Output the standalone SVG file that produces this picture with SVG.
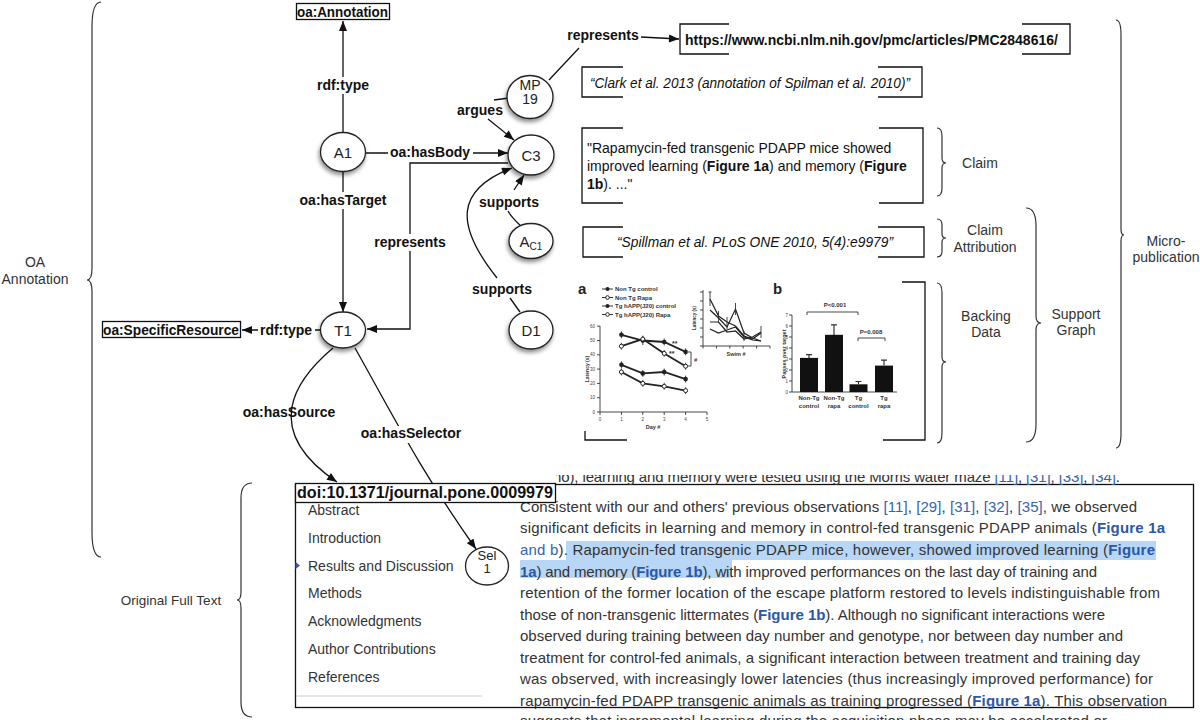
<svg xmlns="http://www.w3.org/2000/svg" width="1200" height="720" viewBox="0 0 1200 720">
<defs>
<style>
.lbl{font-family:"Liberation Sans",Arial,sans-serif;font-size:14px;font-weight:bold;fill:#111}
.mid{text-anchor:middle}
.nd{fill:#fff;stroke:#222;stroke-width:1.3}
.sh{filter:url(#sh)}
.nt{font-family:"Liberation Sans",Arial,sans-serif;font-size:15px;fill:#222;text-anchor:middle}
.cn{fill:none;stroke:#111;stroke-width:1.3}
.ar{marker-end:url(#ah)}
.wb{fill:#fff;stroke:none}
.bx{fill:none;stroke:#111;stroke-width:1.3}
.br{fill:none;stroke:#333;stroke-width:1.2}
.sd{font-family:"Liberation Sans",Arial,sans-serif;font-size:14px;fill:#333;text-anchor:middle}
.tx{font-family:"Liberation Sans",Arial,sans-serif;font-size:14px;fill:#111}
.body{font-family:"Liberation Sans",Arial,sans-serif;font-size:15px;fill:#333}
.toc{font-family:"Liberation Sans",Arial,sans-serif;font-size:14px;fill:#333}
.lk{fill:#3563b0}
.fg{fill:#2b58a6;font-weight:bold}
.ch{fill:none;stroke:#222;stroke-width:1.8}
.ax{fill:none;stroke:#333;stroke-width:0.9}
.tk{font-family:"Liberation Sans",Arial,sans-serif;font-size:4.5px;fill:#444}
.cl{font-family:"Liberation Sans",Arial,sans-serif;font-size:6px;font-weight:bold;fill:#333}
.mf{fill:#222}
.mo{fill:#fff;stroke:#222;stroke-width:1}
</style>
<marker id="ah" viewBox="0 0 10 8" refX="10" refY="4" markerWidth="11" markerHeight="8" markerUnits="userSpaceOnUse" orient="auto"><path d="M0,0 L10,4 L0,8 Z" fill="#111"/></marker>
<filter id="sh" x="-40%" y="-40%" width="180%" height="190%"><feDropShadow dx="-1" dy="3" stdDeviation="2" flood-color="#000" flood-opacity="0.45"/></filter>
<clipPath id="clipL1"><rect x="556" y="475" width="640" height="10"/></clipPath>
<clipPath id="clipL12"><rect x="510" y="708" width="690" height="12"/></clipPath>
</defs>
<rect width="1200" height="720" fill="#fff"/>

<!-- Braces and side labels -->
<g id="brace-oa">
<path class="br" d="M101,2 Q92,2 92,27 L92,268 Q92,280 87,280 Q92,280 92,292 L92,532 Q92,557 101,557"/>
<text class="sd" x="35" y="267">OA</text>
<text class="sd" x="35" y="284">Annotation</text>
</g>
<g id="brace-fulltext">
<path class="br" d="M252,483 Q241,483 241,498 L241,592 Q241,600 237,600 Q241,600 241,608 L241,702 Q241,717 252,717"/>
<text class="sd" x="171" y="605" style="font-size:13.5px">Original Full Text</text>
</g>
<g id="brace-claim">
<path class="br" d="M937,128 Q942,128 942,136 L942,158 Q942,163 946,163 Q942,163 942,168 L942,188 Q942,196 937,196"/>
<text class="sd" x="980" y="168">Claim</text>
</g>
<g id="brace-attribution">
<path class="br" d="M937,219 Q942,219 942,225 L942,234 Q942,238 946,238 Q942,238 942,242 L942,251 Q942,257 937,257"/>
<text class="sd" x="985" y="235">Claim</text>
<text class="sd" x="985" y="252">Attribution</text>
</g>
<g id="brace-backing">
<path class="br" d="M937,283 Q942,283 942,293 L942,357 Q942,362 946,362 Q942,362 942,367 L942,433 Q942,443 937,443"/>
<text class="sd" x="986" y="321">Backing</text>
<text class="sd" x="986" y="337">Data</text>
</g>
<g id="brace-support">
<path class="br" d="M1026,208 Q1036,208 1036,226 L1036,316 Q1036,323 1041,323 Q1036,323 1036,330 L1036,424 Q1036,442 1026,442"/>
<text class="sd" x="1076" y="319">Support</text>
<text class="sd" x="1076" y="335">Graph</text>
</g>
<g id="brace-micro">
<path class="br" d="M1116,20 Q1121,20 1121,35 L1121,229 Q1121,235 1124,235 Q1121,235 1121,241 L1121,433 Q1121,448 1116,448"/>
<text class="sd" x="1166" y="246">Micro-</text>
<text class="sd" x="1166" y="262">publication</text>
</g>

<!-- Text boxes (bracket style) -->
<g id="url-box">
<path class="bx" d="M729,24 H680 V54 H729 M1022,24 H1070 V54 H1022"/>
<text class="lbl" x="685" y="45">https://www.ncbi.nlm.nih.gov/pmc/articles/PMC2848616/</text>
</g>
<g id="clark-box">
<path class="bx" d="M623,67 H582 V97 H623 M878,67 H922 V97 H878"/>
<text class="tx" x="590" y="88" font-style="italic" textLength="320" lengthAdjust="spacingAndGlyphs">“Clark et al. 2013 (annotation of Spilman et al. 2010)”</text>
</g>
<g id="claim-box">
<path class="bx" d="M623,128 H582 V203 H623 M879,128 H923 V203 H879"/>
<text class="tx" x="587" y="153">"Rapamycin-fed transgenic PDAPP mice showed</text>
<text class="tx" x="587" y="171">improved learning (<tspan font-weight="bold">Figure 1a</tspan>) and memory (<tspan font-weight="bold">Figure</tspan></text>
<text class="tx" x="587" y="189"><tspan font-weight="bold">1b</tspan>). ..."</text>
</g>
<g id="attribution-box">
<path class="bx" d="M623,227 H583 V257 H623 M878,227 H924 V257 H878"/>
<text class="tx" x="617" y="247" font-style="italic" textLength="276" lengthAdjust="spacingAndGlyphs">“Spillman et al. PLoS ONE 2010, 5(4):e9979”</text>
</g>

<!-- Backing data chart -->
<g id="backing-data">
<path class="bx" d="M585,431 V440 H627 M902,282 H925 V440 H883"/>
<text x="578" y="294" style="font-family:'Liberation Sans',Arial,sans-serif;font-size:15px;font-weight:bold;fill:#222">a</text>
<text x="773" y="294" style="font-family:'Liberation Sans',Arial,sans-serif;font-size:15px;font-weight:bold;fill:#222">b</text>
<path class="ax" style="stroke-width:1.2" d="M602,289H613M602,297.5H613M602,306H613M602,314.5H613"/>
<circle class="mf" cx="607.5" cy="289" r="2"/>
<circle class="mo" cx="607.5" cy="297.5" r="1.8"/>
<circle class="mf" cx="607.5" cy="306" r="2"/>
<circle class="mo" cx="607.5" cy="314.5" r="1.8"/>
<text class="cl" x="615" y="291">Non Tg control</text>
<text class="cl" x="615" y="299.5">Non Tg Rapa</text>
<text class="cl" x="615" y="308">Tg hAPP(J20) control</text>
<text class="cl" x="615" y="316.5">Tg hAPP(J20) Rapa</text>
<path class="ax" d="M600,326V412H707M597,412H600M597,397.7H600M597,383.4H600M597,369.1H600M597,354.8H600M597,340.5H600M597,326.2H600M600,412V415M621.4,412V415M642.8,412V415M664.2,412V415M685.6,412V415M707,412V415"/>
<g class="tk" text-anchor="end">
<text x="595" y="413.5">0</text><text x="595" y="399.2">10</text><text x="595" y="384.9">20</text><text x="595" y="370.6">30</text><text x="595" y="356.3">40</text><text x="595" y="342">50</text><text x="595" y="327.7">60</text>
</g>
<g class="tk" text-anchor="middle">
<text x="600" y="421">0</text><text x="621.4" y="421">1</text><text x="642.8" y="421">2</text><text x="664.2" y="421">3</text><text x="685.6" y="421">4</text><text x="707" y="421">5</text>
</g>
<text class="cl" x="653" y="429" text-anchor="middle" style="font-size:5.5px">Day #</text>
<text class="cl" transform="translate(589,369) rotate(-90)" text-anchor="middle" style="font-size:5px">Latency (s)</text>
<polyline class="ch" points="621.4,364.8 642.8,373.4 664.2,372 685.6,379.1"/>
<polyline class="ch" points="621.4,372 642.8,383.4 664.2,386.3 685.6,390.6"/>
<polyline class="ch" points="621.4,334.8 642.8,340.5 664.2,342 685.6,351.9"/>
<polyline class="ch" points="621.4,346.2 642.8,339.1 664.2,353.4 685.6,366.2"/>
<path class="ax" d="M621.4,361.3V368.3M642.8,369.9V376.9M664.2,368.5V375.5M685.6,375.6V382.6M621.4,368.5V375.5M642.8,379.9V386.9M664.2,382.8V389.8M685.6,387.1V394.1M621.4,331.3V338.3M642.8,336V345M664.2,338.5V345.5M685.6,348.4V355.4M621.4,342.7V349.7M642.8,335.6V342.6M664.2,349.9V356.9M685.6,362.7V369.7"/>
<g>
<circle class="mf" cx="621.4" cy="364.8" r="2.3"/><circle class="mf" cx="642.8" cy="373.4" r="2.3"/><circle class="mf" cx="664.2" cy="372" r="2.3"/><circle class="mf" cx="685.6" cy="379.1" r="2.3"/>
<circle class="mo" cx="621.4" cy="372" r="2"/><circle class="mo" cx="642.8" cy="383.4" r="2"/><circle class="mo" cx="664.2" cy="386.3" r="2"/><circle class="mo" cx="685.6" cy="390.6" r="2"/>
<circle class="mf" cx="621.4" cy="334.8" r="2.3"/><circle class="mf" cx="642.8" cy="340.5" r="2.3"/><circle class="mf" cx="664.2" cy="342" r="2.3"/><circle class="mf" cx="685.6" cy="351.9" r="2.3"/>
<circle class="mo" cx="621.4" cy="346.2" r="2"/><circle class="mo" cx="642.8" cy="339.1" r="2"/><circle class="mo" cx="664.2" cy="353.4" r="2"/><circle class="mo" cx="685.6" cy="366.2" r="2"/>
</g>
<text class="cl" x="672" y="346" style="font-size:7px">**</text>
<text class="cl" x="669" y="356" style="font-size:7px">**</text>
<path class="ax" d="M688,352H691V366H688"/>
<text class="cl" x="694" y="362" style="font-size:6px">#</text>
<path class="ax" d="M703,290V346H770M700,346H703M700,337H703M700,328H703M700,319H703M700,310H703M700,301H703M700,292H703M703,346V348.5M716.4,346V348.5M729.8,346V348.5M743.2,346V348.5M756.6,346V348.5M770,346V348.5"/>
<text class="cl" x="736" y="356" text-anchor="middle" style="font-size:5.5px">Swim #</text>
<text class="cl" transform="translate(696,318) rotate(-90)" text-anchor="middle" style="font-size:4.5px">Latency (s)</text>
<polyline class="ch" style="stroke-width:1.2" points="710,299 718.5,316 727,322 735.5,326 744,336 752.5,339 761,333"/>
<polyline class="ch" style="stroke-width:1.2" points="710,310 718.5,318 727,327 735.5,309 744,333 752.5,338 761,341"/>
<polyline class="ch" style="stroke-width:1.2" points="710,322 718.5,322 727,332 735.5,331 744,339 752.5,337 761,332"/>
<polyline class="ch" style="stroke-width:1.2" points="710,329 718.5,333 727,330 735.5,327 744,337 752.5,340 761,341"/>
<path class="ax" d="M710,292V306M708.5,292H711.5M718.5,311V323M727,317V329M735.5,303V315M744,331V341M761,326V338"/>
<path class="ax" d="M792,315V392H897M789,392H792M789,381H792M789,370H792M789,359H792M789,348H792M789,337H792M789,326H792M789,315H792"/>
<g class="tk" text-anchor="end">
<text x="788" y="393.5">0</text><text x="788" y="382.5">1</text><text x="788" y="371.5">2</text><text x="788" y="360.5">3</text><text x="788" y="349.5">4</text><text x="788" y="338.5">5</text><text x="788" y="327.5">6</text><text x="788" y="316.5">7</text>
</g>
<text class="cl" transform="translate(786,354) rotate(-90)" text-anchor="middle" style="font-size:5.5px">Passes over target</text>
<rect x="800" y="357.9" width="18" height="34.1" fill="#111"/>
<rect x="825" y="334.8" width="18" height="57.2" fill="#111"/>
<rect x="849.5" y="384.3" width="18" height="7.7" fill="#111"/>
<rect x="875" y="365.6" width="18" height="26.4" fill="#111"/>
<path class="ax" style="stroke-width:1.2" d="M809,358V354.6M806,354.6H812M834,335V324.9M831,324.9H837M858.5,384.3V381.5M855.5,381.5H861.5M884,365.6V360.1M881,360.1H887"/>
<path class="ax" d="M807,315V312H858V315M858,341V338H885V341"/>
<text class="cl" x="835" y="307" text-anchor="middle">P&lt;0.001</text>
<text class="cl" x="871" y="334" text-anchor="middle">P=0.008</text>
<g class="cl" text-anchor="middle">
<text x="809" y="400">Non-Tg</text><text x="809" y="408">control</text>
<text x="834" y="400">Non-Tg</text><text x="834" y="408">rapa</text>
<text x="858.5" y="400">Tg</text><text x="858.5" y="408">control</text>
<text x="884" y="400">Tg</text><text x="884" y="408">rapa</text>
</g>
</g>

<!-- Original full text panel -->
<g id="fulltext">
<rect x="295.5" y="484.5" width="898" height="223" fill="none" stroke="#111" stroke-width="1.3"/>
<text class="toc" x="308" y="515">Abstract</text>
<text class="toc" x="308" y="543">Introduction</text>
<polygon points="295.5,562 300,565.5 295.5,569" fill="#3b56a0"/>
<text class="toc" x="308" y="571">Results and Discussion</text>
<text class="toc" x="308" y="598">Methods</text>
<text class="toc" x="308" y="626">Acknowledgments</text>
<text class="toc" x="308" y="654">Author Contributions</text>
<text class="toc" x="308" y="682">References</text>
<path d="M296,696H482" stroke="#ccc" stroke-width="1"/>
<rect x="566" y="541" width="590" height="19" fill="#b8d6f5"/>
<rect x="520" y="560" width="212" height="18" fill="#b8d6f5"/>
<text class="body" x="553" y="482" clip-path="url(#clipL1)" textLength="567" lengthAdjust="spacing">no), learning and memory were tested using the Morris water maze <tspan class="lk">[11]</tspan>, <tspan class="lk">[31]</tspan>, <tspan class="lk">[33]</tspan>, <tspan class="lk">[34]</tspan>.</text>
<text class="body" x="520" y="511.5" textLength="617" lengthAdjust="spacing">Consistent with our and others' previous observations <tspan class="lk">[11]</tspan>, <tspan class="lk">[29]</tspan>, <tspan class="lk">[31]</tspan>, <tspan class="lk">[32]</tspan>, <tspan class="lk">[35]</tspan>, we observed</text>
<text class="body" x="520" y="533" textLength="645" lengthAdjust="spacing">significant deficits in learning and memory in control-fed transgenic PDAPP animals (<tspan class="fg">Figure 1a</tspan></text>
<text class="body" x="520" y="555" textLength="635" lengthAdjust="spacing"><tspan class="lk">and b</tspan>). Rapamycin-fed transgenic PDAPP mice, however, showed improved learning (<tspan class="fg">Figure</tspan></text>
<text class="body" x="520" y="576.5" textLength="577" lengthAdjust="spacing"><tspan class="fg">1a</tspan>) and memory (<tspan class="fg">Figure 1b</tspan>), with improved performances on the last day of training and</text>
<text class="body" x="520" y="598" textLength="640" lengthAdjust="spacing">retention of the former location of the escape platform restored to levels indistinguishable from</text>
<text class="body" x="520" y="619.5" textLength="585" lengthAdjust="spacing">those of non-transgenic littermates (<tspan class="fg">Figure 1b</tspan>). Although no significant interactions were</text>
<text class="body" x="520" y="641" textLength="603" lengthAdjust="spacing">observed during training between day number and genotype, nor between day number and</text>
<text class="body" x="520" y="662.5" textLength="620" lengthAdjust="spacing">treatment for control-fed animals, a significant interaction between treatment and training day</text>
<text class="body" x="520" y="684" textLength="633" lengthAdjust="spacing">was observed, with increasingly lower latencies (thus increasingly improved performance) for</text>
<text class="body" x="520" y="705.5" textLength="647" lengthAdjust="spacing">rapamycin-fed PDAPP transgenic animals as training progressed (<tspan class="fg">Figure 1a</tspan>). This observation</text>
<text class="body" x="520" y="726" clip-path="url(#clipL12)" textLength="587" lengthAdjust="spacing">suggests that incremental learning during the acquisition phase may be accelerated or</text>
</g>

<!-- Connectors -->
<g id="connectors">
<path class="cn ar" d="M343,133V21"/>
<rect class="wb" x="315" y="77" width="56" height="17"/>
<text class="lbl mid" x="343" y="90">rdf:type</text>
<path class="cn ar" d="M343,171V312"/>
<rect class="wb" x="298" y="192" width="90" height="17"/>
<text class="lbl mid" x="343" y="205">oa:hasTarget</text>
<path class="cn ar" d="M321,330H242"/>
<rect class="wb" x="258" y="322" width="57" height="17"/>
<text class="lbl mid" x="286" y="335">rdf:type</text>
<path class="cn ar" d="M366,153H508"/>
<rect class="wb" x="388" y="144" width="85" height="17"/>
<text class="lbl" x="390" y="157">oa:hasBody</text>
<path class="cn ar" d="M508,163H410V329H367"/>
<rect class="wb" x="372" y="234" width="77" height="17"/>
<text class="lbl mid" x="410" y="247">represents</text>
<path class="cn" d="M549,80L579,48"/>
<path class="cn ar" d="M641,37L679,39"/>
<text class="lbl mid" x="603" y="40">represents</text>
<path class="cn" d="M509,98L494,100"/>
<path class="cn ar" d="M488,119L514,140"/>
<text class="lbl mid" x="480" y="115">argues</text>
<path class="cn" d="M521,226Q512,218 508,211"/>
<path class="cn ar" d="M514,190L524,175"/>
<text class="lbl mid" x="509" y="207">supports</text>
<path class="cn" d="M520,312L510,298"/>
<path class="cn ar" d="M497,278C455,225 455,190 512,168"/>
<text class="lbl mid" x="502" y="294">supports</text>
<path class="cn ar" d="M333,348C295,380 260,430 337,482"/>
<text class="lbl mid" x="289" y="417">oa:hasSource</text>
<path class="cn ar" d="M355,348C390,410 420,470 476,549"/>
<rect class="wb" x="360" y="426" width="102" height="17"/>
<text class="lbl mid" x="411" y="438">oa:hasSelector</text>
</g>

<!-- Nodes -->
<g id="node-oa-annotation">
<rect x="296.5" y="3.5" width="93" height="16" fill="#fff" stroke="#111" stroke-width="1.3"/>
<text class="lbl" x="297" y="16.5" textLength="91" lengthAdjust="spacingAndGlyphs">oa:Annotation</text>
</g>
<g id="node-specific-resource">
<rect x="102.5" y="321.5" width="138" height="16" fill="#fff" stroke="#111" stroke-width="1.3"/>
<text class="lbl" x="103" y="334.5" textLength="136" lengthAdjust="spacingAndGlyphs">oa:SpecificResource</text>
</g>
<g id="node-doi">
<rect x="295.5" y="483.5" width="260" height="19" fill="#fff" stroke="#111" stroke-width="1.3"/>
<text class="lbl" x="297" y="498" style="font-size:16px" textLength="256" lengthAdjust="spacingAndGlyphs">doi:10.1371/journal.pone.0009979</text>
</g>
<g id="node-A1">
<ellipse class="nd sh" cx="343" cy="152" rx="22.5" ry="19.5"/>
<text class="nt" x="343" y="157.5">A1</text>
</g>
<g id="node-C3">
<ellipse class="nd sh" cx="531" cy="155" rx="23" ry="20"/>
<text class="nt" x="531" y="160.5">C3</text>
</g>
<g id="node-MP19">
<ellipse class="nd sh" cx="530" cy="97" rx="23" ry="21.5"/>
<text class="nt" x="530" y="90" style="font-size:14px">MP</text>
<text class="nt" x="530" y="104" style="font-size:14px">19</text>
</g>
<g id="node-T1">
<ellipse class="nd sh" cx="343" cy="330" rx="22.5" ry="18"/>
<text class="nt" x="343" y="335.5">T1</text>
</g>
<g id="node-AC1">
<ellipse class="nd sh" cx="531" cy="241" rx="22" ry="17.5"/>
<text class="nt" x="531" y="247">A<tspan style="font-size:10px" dy="3">C1</tspan></text>
</g>
<g id="node-D1">
<ellipse class="nd sh" cx="531" cy="330" rx="22" ry="19"/>
<text class="nt" x="531" y="335.5">D1</text>
</g>
<g id="node-Sel1">
<ellipse class="nd" cx="487" cy="566" rx="21.5" ry="19"/>
<text class="nt" x="487" y="560" style="font-size:13px">Sel</text>
<text class="nt" x="487" y="573" style="font-size:13px">1</text>
</g>
</svg>
